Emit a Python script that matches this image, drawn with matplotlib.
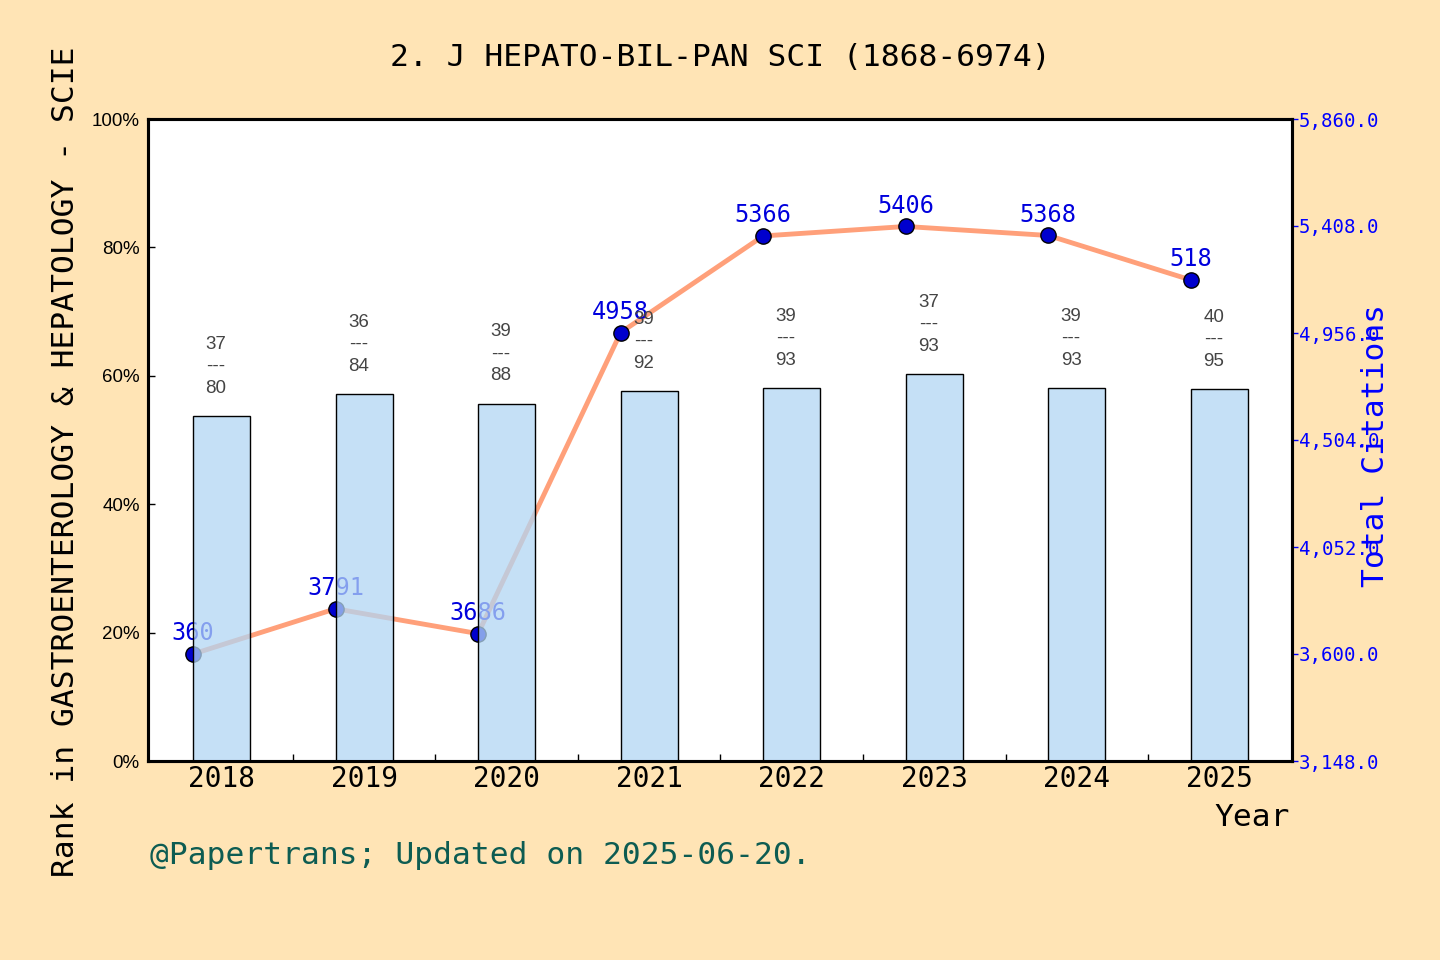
import matplotlib
matplotlib.use('Agg')
import matplotlib.pyplot as plt
import numpy as np
from matplotlib.ticker import PercentFormatter, FixedLocator

# data
years = ['2018', '2019', '2020', '2021', '2022', '2023', '2024', '2025']
rank = [37, 36, 39, 39, 39, 37, 39, 40]
total = [80, 84, 88, 92, 93, 93, 93, 95]
cites = [3600, 3791, 3686, 4958, 5366, 5406, 5368, 5180]
cite_labels = ['360', '3791', '3686', '4958', '5366', '5406', '5368', '518']
cite_ticks = [3148, 3600, 4052, 4504, 4956, 5408, 5860]

mono = 'DejaVu Sans Mono'
sans = 'Liberation Sans'

x = np.arange(len(years))
pct = 1 - np.array(rank) / np.array(total)

fig = plt.figure(figsize=(14.4, 9.6), dpi=100, facecolor='#FFE4B5')
ax = fig.add_axes([148/1440, 1-761/960, (1292-148)/1440, (761-119)/960])
ax2 = ax.twinx()
ax.set_zorder(ax2.get_zorder() + 1)
ax.patch.set_visible(False)
ax2.patch.set_visible(True)
ax2.patch.set_facecolor('white')

# citations line (underneath the bars)
ax2.plot(x, cites, color='#FFA07A', lw=3.5, marker='o', ms=11,
         mfc='#0000CD', mec='black', mew=1, zorder=2)
for xi, c, lab in zip(x, cites, cite_labels):
    ax2.annotate(lab, (xi, c), xytext=(0, 10), textcoords='offset points',
                 ha='center', va='baseline', color='#0000DD', fontsize=17, family=mono)
ax2.set_ylim(3148, 5860)
ax2.set_yticks(cite_ticks)
ax2.set_yticklabels([f'{v:,.1f}' for v in cite_ticks], color='#0000FF', fontsize=13.7, family=mono)
ax2.tick_params(axis='y', direction='out', length=4, width=1, pad=1, color='#0000FF')

# rank bars
ax.bar(x + 0.2, pct, width=0.4, color=(178/255, 214/255, 244/255, 0.75),
       edgecolor='black', linewidth=1)
for xi, h, r, t in zip(x, pct, rank, total):
    ax.text(xi + 0.16, h + 0.03, f'{r}\n---\n{t}', ha='center', va='bottom',
            fontsize=13.5, color='#444444', family=sans, linespacing=1.38)

ax.set_ylim(0, 1)
ax.set_yticks(np.arange(0, 1.01, 0.2))
ax.yaxis.set_major_formatter(PercentFormatter(1.0, decimals=0))
ax.tick_params(axis='y', direction='in', length=5, width=1, pad=6, labelsize=13.5)
for lab in ax.get_yticklabels():
    lab.set_family(sans)

ax.set_xlim(-0.316, 7.71)
ax.set_xticks(x + 0.2)
ax.set_xticklabels(years, fontsize=20, family=mono)
ax.xaxis.set_minor_locator(FixedLocator(x[:-1] + 0.7))
ax.tick_params(axis='x', which='major', length=0, pad=3)
ax.tick_params(axis='x', which='minor', direction='in', length=5, width=1)

for a in (ax, ax2):
    for s in a.spines.values():
        s.set_linewidth(2.2)
        s.set_color('black')

fig.text(720/1440, 1-57/960, '2. J HEPATO-BIL-PAN SCI (1868-6974)', ha='center', va='center',
         fontsize=22.5, family=mono)
fig.text(66/1440, 1-462/960, 'Rank in GASTROENTEROLOGY & HEPATOLOGY - SCIE', rotation=90,
         ha='center', va='center', fontsize=22.5, family=mono)
fig.text(1375/1440, 1-445/960, 'Total Citations', rotation=90, ha='center', va='center',
         fontsize=22.5, family=mono, color='#0000FF')
fig.text(1290/1440, 1-817/960, 'Year', ha='right', va='center', fontsize=22.5, family=mono)
fig.text(150/1440, 1-855/960, '@Papertrans; Updated on 2025-06-20.', ha='left', va='center',
         fontsize=22.5, family=mono, color='#0d5c52')

fig.savefig('out.png', dpi=100, facecolor=fig.get_facecolor())
